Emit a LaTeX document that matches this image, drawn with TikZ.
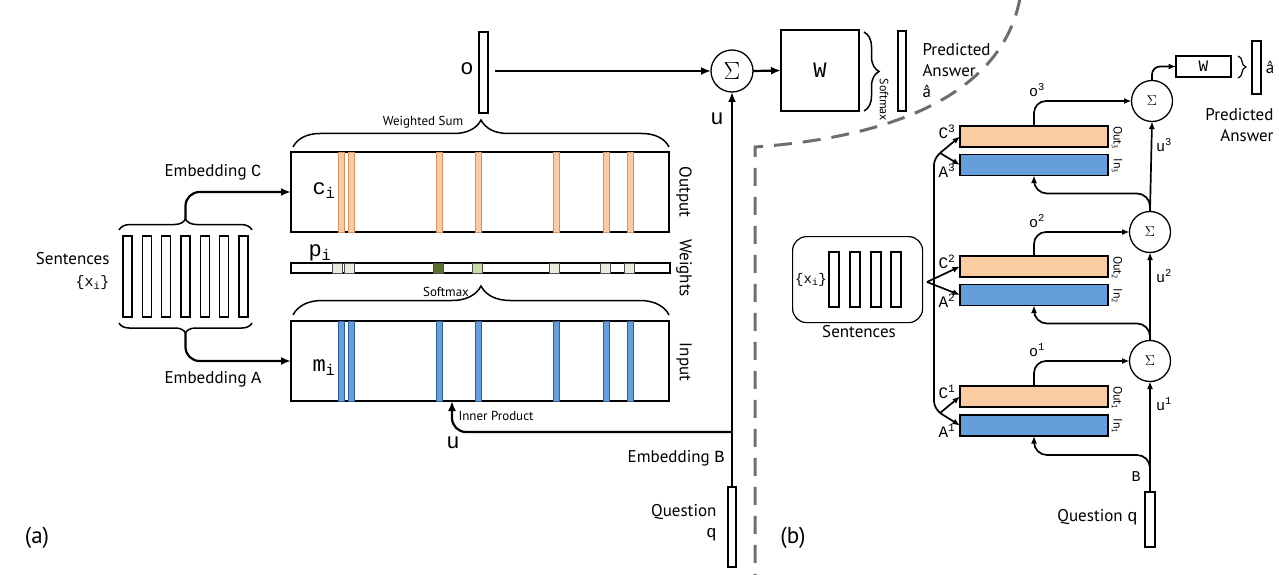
\documentclass[tikz,border=0pt]{standalone}
\usepackage{fontspec}
\setmainfont{PT Sans}
\newfontfamily\mono{Liberation Mono}
\usetikzlibrary{arrows.meta,decorations.pathreplacing,calc}
\definecolor{peach}{HTML}{FBCBA2}
\definecolor{peachd}{HTML}{D29466}
\definecolor{blu}{HTML}{649FDC}
\definecolor{blud}{HTML}{2F5F99}
\definecolor{wlight}{HTML}{E8EDDD}
\definecolor{wdark}{HTML}{5A6F30}
\definecolor{wmid}{HTML}{C8DCA6}
\definecolor{dashgray}{HTML}{6E6E6E}
\newcommand{\fs}[1]{\fontsize{#1}{#1}\selectfont}
\begin{document}
\begin{tikzpicture}[x=1pt,y=-1pt,
  box/.style={draw, line width=1.4pt, inner sep=0pt, outer sep=0pt, anchor=north west},
  sbar/.style={box, minimum width=9pt, minimum height=81pt},
  sbarb/.style={box, line width=1.2pt, minimum width=10pt, minimum height=55pt},
  obar/.style={draw=peachd, fill=peach, line width=0.7pt},
  bbar/.style={draw=blud, fill=blu, line width=0.7pt},
  cell/.style={draw=black!70, line width=0.7pt, inner sep=0pt, outer sep=0pt, anchor=north west, minimum width=10pt, minimum height=10pt},
  arr/.style={line width=2.2pt, -{Latex[length=10pt,width=8pt]}},
  arrb/.style={line width=1.7pt, -{Latex[length=7.5pt,width=6pt]}},
  lnb/.style={line width=1.7pt},
  mybrace/.style={decorate, decoration={brace, amplitude=#1}, line width=1.5pt},
  lbl/.style={font=\fs{17}},
  small/.style={font=\fs{13}},
  sig/.style={draw, circle, line width=1.3pt, inner sep=0pt, outer sep=0pt},
  pbox/.style={draw, line width=1.4pt, inner sep=0pt, outer sep=0pt, anchor=north west, minimum width=148pt, minimum height=21pt},
]
\useasboundingbox (0,0) rectangle (1279,575);

% ---------------- panel (a) ----------------
\foreach \i in {0,...,6} \node[sbar] (s\i) at ({123+19.3*\i},236) {};
\draw[mybrace=11pt] (119,230) -- (252,230);
\draw[mybrace=10pt] (252,323) -- (119,323);
\coordinate (tipC) at (185.5,219);
\coordinate (tipA) at (185.5,333);

\node[lbl, anchor=east, align=right] (sentA) at (113,271) {Sentences\\[5pt]{\mono\fs{15}\{x\textsubscript{i}\}}};

\node[box, minimum width=378pt, minimum height=80pt] (outb) at (291,152) {};
\foreach \x in {338,348,436,475,553,603,627} \draw[obar] (\x,152) rectangle ++(6,80);
\node[box, minimum width=379pt, minimum height=10pt, line width=1.1pt] (wt) at (291,263) {};
\foreach \x/\c [count=\i] in {332/wlight,344/wlight,433/wdark,472/wmid,549/wlight,600/wlight,624/wlight}
  \node[cell, fill=\c] (w\i) at (\x,263) {};
\node[box, minimum width=378pt, minimum height=80pt] (inb) at (291,321) {};
\foreach \x in {338,348,436,475,553,603,627} \draw[bbar] (\x,321) rectangle ++(6,80);

\node[font=\mono\fs{22}] (ci) at (324,191) {c\textsubscript{i}};
\node[font=\mono\fs{22}] (pi) at (320,253) {p\textsubscript{i}};
\node[font=\mono\fs{22}] (mi) at (324,368) {m\textsubscript{i}};

\node[lbl, rotate=-90] (outl) at (684,192) {Output};
\node[lbl, rotate=-90] (wtl) at (684,268) {Weights};
\node[lbl, rotate=-90] (inl) at (684,362) {Input};

\draw[arr, rounded corners=14pt] (tipC) |- (outb.west);
\draw[arr, rounded corners=14pt] (tipA) |- (inb.west);
\node[lbl] (embC) at (213,172) {Embedding {\mono C}};
\node[lbl] (embA) at (213,379) {Embedding {\mono A}};

\draw[mybrace=27pt] (293,147) -- (669,147);
\node[small] (wsum) at (423,122) {Weighted Sum};
\draw[mybrace=29pt] (293,315) -- (669,315);
\node[small] (smx) at (446,292) {Softmax};

\node[box, line width=1.3pt, minimum width=9pt, minimum height=81pt] (ob) at (479,32) {};
\node[font=\mono\fs{22}] (ol) at (467,69) {o};
\node[sig, minimum size=42pt, font=\fs{24}] (sa) at (732,71) {$\Sigma$};
\draw[arr, shorten <=7pt] (ob.east |- sa.west) -- (sa.west);
\node[box, line width=1.3pt, minimum width=78pt, minimum height=81pt] (wa) at (781,30) {};
\node[font=\mono\fs{22}] at (wa.center) {W};
\draw[arr] (sa.east) -- (wa.west);
\draw[mybrace=15pt] (864,32) -- (864,111);
\node[font=\fs{12}, rotate=-90] (smx2) at (884,100) {Softmax};
\node[box, line width=1.3pt, minimum width=8pt, minimum height=80pt] (ansa) at (898,31) {};
\node[lbl, anchor=west, align=left] (preda) at (919,71) {Predicted\\[4pt]Answer\\[4pt]â};

\node[box, line width=1.3pt, minimum width=8pt, minimum height=80pt] (qa) at (728,487) {};
\coordinate (ipt) at (452,401);
\coordinate (jct) at ($(qa.north)+(0,-55)$);
\draw[arr] (qa.north) -- (sa.south);
\draw[arr, rounded corners=14pt] (jct) -| (ipt);
\node[font=\mono\fs{22}] (ua) at (717,119) {u};
\node[font=\mono\fs{22}] (ub) at (453,443) {u};
\node[small, anchor=west] (inner) at (455,416) {Inner Product};
\node[lbl, anchor=east] (embB) at (728,458) {Embedding {\mono B}};
\node[lbl, anchor=east, align=right] (qla) at (720,523) {Question\\[4pt]{\mono q}};

\node[font=\fs{23}] (la) at (37,538) {(a)};

% ---------------- separator ----------------
\draw[dashgray, line width=3pt, dash pattern=on 18pt off 11pt] (1020,-2) .. controls (1005,80) and (920,135) .. (755,147) -- (755,577);

\node[font=\fs{23}] (lb) at (793,538) {(b)};

% ---------------- panel (b) ----------------
\node[draw, line width=1.2pt, rounded corners=14pt, minimum width=130pt, minimum height=86pt, inner sep=0pt, anchor=north west] (sbox) at (792,236) {};
\foreach \x [count=\i] in {829,850,871,891} \node[sbarb] (t\i) at (\x,252) {};
\node[font=\mono\fs{14}] (xib) at (811,280) {\{x\textsubscript{i}\}};
\node[lbl] (sentb) at (859,332) {Sentences};

\node[pbox, fill=peach] (c3) at (960,126) {};
\node[pbox, fill=blu] (a3) at (960,154.5) {};
\node[pbox, fill=peach] (c2) at (960,256) {};
\node[pbox, fill=blu] (a2) at (960,284.5) {};
\node[pbox, fill=peach] (c1) at (960,386) {};
\node[pbox, fill=blu] (a1) at (960,415) {};

\foreach \k/\cy in {3/126,2/256,1/386} {
  \node[font=\fs{12}, rotate=-90] at (1117,{\cy+12}) {Out\textsubscript{\k}};
  \node[font=\fs{12}, rotate=-90] at (1117,{\cy+40}) {In\textsubscript{\k}};
  \node[font=\mono\fs{16}] at (947,{\cy+6}) {C\textsuperscript{\k}};
  \node[font=\mono\fs{16}] at (947,{\cy+45}) {A\textsuperscript{\k}};
}

\coordinate (ft) at (940,153);
\coordinate (fb) at (940,413);
\coordinate (fs) at (927,282);
\draw[lnb, rounded corners=5pt] (ft) -- (934,160) -- (934,406) -- (fb);
\draw[arrb] (ft) -- (c3.west);
\draw[arrb] (ft) -- (a3.west);
\draw[arrb] (fb) -- (c1.west);
\draw[arrb] (fb) -- (a1.west);
\draw[arrb] (fs) -- (c2.west);
\draw[arrb] (fs) -- (a2.west);

\node[sig, minimum size=41pt, font=\fs{14}] (s3) at (1152,101) {$\Sigma$};
\node[sig, minimum size=41pt, font=\fs{14}] (s2) at (1150,232) {$\Sigma$};
\node[sig, minimum size=41pt, font=\fs{14}] (s1) at (1150,361) {$\Sigma$};

\draw[arrb, rounded corners=12pt] (c3.north) |- (s3.west);
\draw[arrb, rounded corners=12pt] (c2.north) |- (s2.west);
\draw[arrb, rounded corners=12pt] (c1.north) |- (s1.west);
\node[font=\mono\fs{15}] at (1037,90) {o\textsuperscript{3}};
\node[font=\mono\fs{15}] at (1037,221) {o\textsuperscript{2}};
\node[font=\mono\fs{15}] at (1037,350) {o\textsuperscript{1}};

\node[box, line width=1.2pt, minimum width=10pt, minimum height=55pt] (qb) at (1145,492) {};
\draw[arrb] (qb.north) -- (s1.south);
\draw[arrb, rounded corners=13pt] (qb.north) -- ++(0,-37) -| (a1.south);
\draw[arrb] (s1.north) -- (s2.south);
\draw[arrb, rounded corners=13pt] (s1.north) -- ++(0,-17) -| (a2.south);
\draw[arrb] (s2.north) -- (s3.south);
\draw[arrb, rounded corners=13pt] (s2.north) -- ++(0,-18) -| (a3.south);
\node[font=\mono\fs{15}] at (1164,404) {u\textsuperscript{1}};
\node[font=\mono\fs{15}] at (1164,276) {u\textsuperscript{2}};
\node[font=\mono\fs{15}] at (1164,145) {u\textsuperscript{3}};
\node[font=\mono\fs{15}] at (1136,477) {B};
\node[lbl, anchor=east] (qlb) at (1141,517) {Question {\mono q}};

\node[box, line width=1.2pt, minimum width=55pt, minimum height=21pt] (wb) at (1176,56) {};
\node[font=\mono\fs{16}] at (wb.center) {W};
\draw[arrb, rounded corners=8pt] (s3.north) |- (wb.west);
\draw[mybrace=8pt, line width=1.2pt] (1238,56) -- (1238,78);
\node[box, line width=1.2pt, minimum width=9pt, minimum height=53pt] (ansb) at (1252,41) {};
\node[lbl] at (1270,67) {â};
\node[lbl, anchor=east, align=right] (predb) at (1277,125) {Predicted\\[4pt]Answer};
\end{tikzpicture}
\end{document}
